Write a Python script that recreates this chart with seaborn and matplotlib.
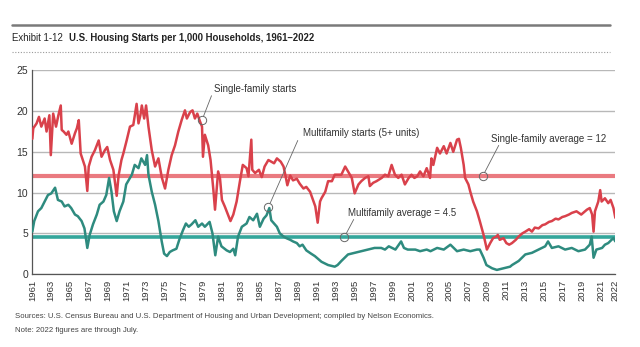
import matplotlib
matplotlib.use("Agg")
import matplotlib.pyplot as plt
import seaborn as sns
import pandas as pd
from matplotlib.lines import Line2D

# ---------------- data ----------------
sf_years = [1961.0, 1961.1, 1961.45, 1961.7, 1961.95, 1962.3, 1962.5, 1962.8, 1962.95, 1963.2,
            1963.5, 1963.75, 1964.0, 1964.1, 1964.3, 1964.6, 1964.8, 1965.15, 1965.5, 1965.7,
            1965.9, 1966.1, 1966.55, 1966.8, 1966.95, 1967.25, 1967.6, 1968.0, 1968.3, 1968.65,
            1968.9, 1969.2, 1969.55, 1969.9, 1970.1, 1970.4, 1970.6, 1970.95, 1971.3, 1971.65,
            1972.0, 1972.2, 1972.4, 1972.55, 1972.8, 1973.0, 1973.25, 1973.6, 1973.95, 1974.3,
            1974.65, 1975.0, 1975.35, 1975.7, 1976.05, 1976.4, 1976.75, 1977.1, 1977.3, 1977.65,
            1977.9, 1978.15, 1978.4, 1978.7, 1978.9, 1979.0, 1979.2, 1979.55, 1979.8, 1980.1,
            1980.27, 1980.6, 1980.8, 1981.0, 1981.3, 1981.9, 1982.2, 1982.55, 1982.9, 1983.2,
            1983.6, 1983.8, 1984.1, 1984.2, 1984.5, 1984.9, 1985.2, 1985.5, 1985.9, 1986.2,
            1986.5, 1986.8, 1987.2, 1987.5, 1987.7, 1987.9, 1988.2, 1988.5, 1988.9, 1989.2,
            1989.6, 1989.9, 1990.3, 1990.6, 1990.85, 1991.1, 1991.35, 1991.5, 1991.9, 1992.2,
            1992.6, 1992.9, 1993.3, 1993.6, 1994.0, 1994.3, 1994.7, 1995.0, 1995.4, 1995.7,
            1996.1, 1996.45, 1996.6, 1996.95, 1997.3, 1997.85, 1998.2, 1998.55, 1998.9, 1999.25,
            1999.6, 1999.95, 2000.3, 2000.7, 2001.0, 2001.3, 2001.6, 2001.9, 2002.25, 2002.6,
            2002.95, 2003.1, 2003.3, 2003.7, 2004.0, 2004.4, 2004.7, 2005.1, 2005.4, 2005.8,
            2006.0, 2006.2, 2006.5, 2006.65, 2007.0, 2007.2, 2007.5, 2007.9, 2008.2, 2008.6,
            2008.95, 2009.3, 2009.6, 2009.95, 2010.1, 2010.3, 2010.7, 2011.0, 2011.3, 2011.6,
            2012.0, 2012.3, 2012.7, 2013.0, 2013.4, 2013.7, 2014.0, 2014.4, 2014.8, 2015.1,
            2015.5, 2015.8, 2016.2, 2016.5, 2016.9, 2017.2, 2017.6, 2017.9, 2018.4, 2018.9,
            2019.2, 2019.5, 2019.8, 2020.05, 2020.2, 2020.35, 2020.7, 2020.9, 2021.05, 2021.4,
            2021.75, 2022.0, 2022.3, 2022.5]
sf_values = [16.6, 17.9, 18.5, 19.3, 18.1, 19.1, 17.5, 19.5, 14.6, 19.7,
             18.1, 19.5, 20.7, 17.7, 17.5, 17.1, 17.5, 16.0, 17.3, 17.9,
             18.9, 14.8, 13.2, 10.2, 13.2, 14.4, 15.2, 16.4, 14.4, 15.2,
             15.6, 14.0, 12.8, 9.6, 12.1, 14.0, 14.8, 16.4, 18.1, 18.3,
             20.9, 18.5, 19.5, 20.7, 19.1, 20.7, 18.1, 15.2, 13.2, 14.2,
             11.9, 10.5, 12.8, 14.6, 15.8, 17.5, 18.9, 20.1, 19.1, 19.9,
             20.1, 19.1, 19.7, 18.7, 18.1, 14.4, 17.1, 15.8, 14.0, 10.3,
             7.9, 12.6, 11.7, 9.1, 8.3, 6.5, 7.3, 8.9, 11.4, 13.4,
             13.0, 12.0, 16.5, 12.8, 12.4, 12.8, 11.9, 13.2, 14.0, 13.8,
             13.6, 14.2, 13.8, 13.2, 12.1, 10.9, 12.1, 11.5, 11.7, 11.1,
             10.5, 10.7, 10.1, 9.1, 8.3, 6.3, 8.9, 9.3, 10.1, 11.4,
             11.4, 12.2, 12.2, 12.2, 13.2, 12.6, 11.8, 9.9, 11.0, 11.4,
             11.8, 12.0, 10.8, 11.2, 11.4, 11.8, 12.2, 12.0, 13.4, 12.2,
             11.8, 12.2, 11.0, 11.8, 12.2, 11.8, 12.0, 12.6, 12.0, 13.0,
             11.8, 14.2, 13.4, 15.5, 14.8, 15.7, 14.8, 16.1, 15.0, 16.5,
             16.6, 15.5, 13.4, 11.8, 11.0, 10.1, 8.9, 7.7, 6.5, 4.8,
             3.0, 3.8, 4.4, 4.6, 4.8, 4.2, 4.4, 3.8, 3.6, 3.8,
             4.2, 4.6, 5.0, 5.2, 5.5, 5.2, 5.7, 5.6, 6.0, 6.1,
             6.4, 6.5, 6.8, 6.7, 7.0, 7.1, 7.3, 7.5, 7.7, 7.3,
             7.6, 7.9, 8.1, 7.3, 5.2, 7.7, 8.9, 10.3, 8.9, 9.3,
             8.7, 9.1, 8.1, 6.9]

mf_years = [1961.0, 1961.2, 1961.6, 1961.95, 1962.3, 1962.65, 1963.0, 1963.4, 1963.7, 1964.1,
            1964.4, 1964.8, 1965.1, 1965.5, 1965.8, 1966.2, 1966.5, 1966.8, 1967.05, 1967.4,
            1967.8, 1968.1, 1968.5, 1968.8, 1969.1, 1969.35, 1969.6, 1969.9, 1970.2, 1970.6,
            1970.9, 1971.1, 1971.5, 1971.8, 1972.2, 1972.5, 1972.9, 1973.1, 1973.25, 1973.6,
            1973.95, 1974.3, 1974.65, 1974.9, 1975.2, 1975.5, 1975.8, 1976.2, 1976.5, 1976.9,
            1977.2, 1977.5, 1977.8, 1978.2, 1978.5, 1978.9, 1979.2, 1979.7, 1980.0, 1980.3,
            1980.6, 1980.95, 1981.5, 1981.85, 1982.2, 1982.4, 1982.7, 1983.1, 1983.6, 1983.9,
            1984.3, 1984.7, 1985.0, 1985.4, 1985.7, 1986.0, 1986.2, 1986.8, 1987.1, 1987.5,
            1987.8, 1988.2, 1988.5, 1988.9, 1989.2, 1989.5, 1989.9, 1990.4, 1990.8, 1991.2,
            1991.5, 1992.2, 1992.9, 1993.2, 1993.6, 1993.95, 1994.3, 1995.0, 1995.7, 1996.4,
            1997.1, 1997.8, 1998.2, 1998.6, 1999.3, 1999.9, 2000.2, 2000.6, 2001.4, 2001.9,
            2002.6, 2003.0, 2003.7, 2004.4, 2005.1, 2005.8, 2006.5, 2007.2, 2007.9, 2008.2,
            2008.6, 2008.9, 2009.5, 2010.0, 2010.7, 2011.4, 2011.6, 2012.3, 2013.0, 2013.7,
            2014.4, 2015.1, 2015.4, 2015.8, 2016.5, 2017.2, 2017.9, 2018.6, 2019.3, 2019.8,
            2020.0, 2020.2, 2020.5, 2021.1, 2021.4, 2021.75, 2022.1, 2022.3, 2022.5]
mf_values = [5.2, 6.5, 7.7, 8.1, 8.9, 9.7, 9.9, 10.6, 9.1, 8.9,
             8.3, 8.5, 8.1, 7.3, 7.1, 6.5, 5.6, 3.2, 4.8, 6.1,
             7.3, 8.5, 8.9, 9.7, 11.8, 10.1, 7.7, 6.5, 7.7, 8.9,
             11.0, 11.4, 12.2, 13.4, 13.0, 14.2, 13.4, 14.6, 12.2, 10.1,
             8.5, 6.5, 4.0, 2.5, 2.2, 2.7, 2.9, 3.1, 4.2, 5.4,
             6.2, 5.8, 6.1, 6.6, 5.8, 6.2, 5.8, 6.4, 5.0, 2.3,
             4.6, 3.4, 2.9, 2.7, 3.1, 2.3, 4.6, 5.8, 6.2, 7.0,
             6.6, 7.4, 5.8, 6.8, 7.2, 8.1, 6.6, 5.8, 5.0, 4.6,
             4.4, 4.2, 4.0, 3.8, 3.4, 3.6, 2.9, 2.5, 2.2, 1.8,
             1.5, 1.1, 0.9, 1.1, 1.6, 2.0, 2.4, 2.6, 2.8, 3.0,
             3.2, 3.2, 3.0, 3.4, 3.0, 4.0, 3.2, 3.0, 3.0, 2.8,
             3.0, 2.8, 3.2, 3.0, 3.6, 2.8, 3.0, 2.8, 3.0, 3.0,
             2.0, 1.1, 0.7, 0.5, 0.7, 0.9, 1.1, 1.6, 2.4, 2.6,
             3.0, 3.4, 4.0, 3.2, 3.4, 3.0, 3.2, 2.8, 3.0, 3.6,
             4.6, 2.0, 3.0, 3.2, 3.6, 3.8, 4.2, 4.4, 4.0]

sf_average = 12.0
mf_average = 4.5

tick_years = list(range(1961, 2022, 2)) + [2022.5]
tick_labels = [str(y) for y in range(1961, 2022, 2)] + ["2022"]
y_ticks = [0, 5, 10, 15, 20, 25]

title_prefix = "Exhibit 1-12"
title_main = "U.S. Housing Starts per 1,000 Households, 1961\u20132022"
source_note = ("Sources: U.S. Census Bureau and U.S. Department of Housing and Urban "
               "Development; compiled by Nelson Economics.")
note_text = "Note: 2022 figures are through July."

# ---------------- styling ----------------
sns.set_style("white")
plt.rcParams["font.family"] = ["Liberation Sans Narrow", "Liberation Sans", "DejaVu Sans"]

RED = "#d9414b"
TEAL = "#2e8b7f"
RED_AVG = "#ea7a80"
TEAL_AVG = "#34a69b"
GRID = "#b8b8b8"
DARK = "#333333"

df = pd.concat([
    pd.DataFrame({"year": sf_years, "value": sf_values, "series": "Single-family"}),
    pd.DataFrame({"year": mf_years, "value": mf_values, "series": "Multifamily"}),
], ignore_index=True)

fig = plt.figure(figsize=(6.4, 3.47), dpi=100)
ax = fig.add_axes([0.0505, 0.2104, 0.911, 0.5865])

for yv in y_ticks:
    ax.axhline(yv, color=GRID, lw=1.0, zorder=0)

ax.axhline(sf_average, color=RED_AVG, lw=3.0, zorder=1)
ax.axhline(mf_average, color=TEAL_AVG, lw=2.6, zorder=1)

sns.lineplot(data=df, x="year", y="value", hue="series",
             palette={"Single-family": RED, "Multifamily": TEAL},
             estimator=None, sort=False, legend=False, lw=1.8, ax=ax, zorder=3)

ax.set_xlim(1961, 2022.5)
ax.set_ylim(0, 25)
ax.set_xlabel("")
ax.set_ylabel("")
ax.set_xticks(tick_years)
ax.set_xticklabels(tick_labels, rotation=90, fontsize=6.8, color=DARK)
ax.set_yticks(y_ticks)
ax.set_yticklabels([str(v) for v in y_ticks], fontsize=7.5, color=DARK)
ax.tick_params(axis="x", direction="in", length=3.5, width=0.8, color="#555555", pad=4)
ax.tick_params(axis="y", length=0, pad=3)
for s in ["top", "right"]:
    ax.spines[s].set_visible(False)
for s in ["left", "bottom"]:
    ax.spines[s].set_color("#555555")
    ax.spines[s].set_linewidth(0.9)
ax.grid(False)

# annotations
ann_color = "#666666"
ann_font = dict(fontsize=7, color=DARK, family=["Liberation Sans", "DejaVu Sans"])

def callout(circle_xy, line_end, text_xy, text):
    ax.plot([circle_xy[0]], [circle_xy[1]], marker="o", ms=6, mfc="none",
            mec=ann_color, mew=0.7, zorder=5)
    ax.annotate("", xy=circle_xy, xytext=line_end,
                arrowprops=dict(arrowstyle="-", color=ann_color, lw=0.6,
                                shrinkA=0, shrinkB=3.2), zorder=5)
    ax.text(text_xy[0], text_xy[1], text, ha="left", va="center", zorder=6, **ann_font)

callout((1978.9, 18.9), (1979.9, 21.9), (1980.2, 22.7), "Single-family starts")
callout((1985.9, 8.2), (1989.0, 16.4), (1989.5, 17.3), "Multifamily starts (5+ units)")
callout((2008.5, sf_average), (2010.2, 15.8), (2009.4, 16.6), "Single-family average = 12")
callout((1993.9, mf_average), (1994.9, 6.7), (1994.3, 7.5), "Multifamily average = 4.5")

# header
fig.add_artist(Line2D([12 / 640, 610 / 640], [1 - 25 / 347] * 2, color="#7a7a7a", lw=1.8))
fig.add_artist(Line2D([12 / 640, 610 / 640], [1 - 52 / 347] * 2, color="#9a9a9a", lw=0.8,
                      linestyle=(0, (1, 1.5))))
t1 = fig.text(12 / 640, 1 - 38 / 347, title_prefix, fontsize=6.9, color="#222222",
              ha="left", va="center")
fig.canvas.draw()
bb = t1.get_window_extent()
fig.text((bb.x1 + 6) / 640, 1 - 38 / 347, title_main, fontsize=6.9, fontweight="bold",
         color="#222222", ha="left", va="center")

fig.text(15 / 640, 1 - 317 / 347, source_note, fontsize=5.6, color="#444444",
         ha="left", va="center", family=["Liberation Sans", "DejaVu Sans"])
fig.text(15 / 640, 1 - 330 / 347, note_text, fontsize=5.6, color="#444444",
         ha="left", va="center", family=["Liberation Sans", "DejaVu Sans"])

fig.savefig("out.png", dpi=100)
